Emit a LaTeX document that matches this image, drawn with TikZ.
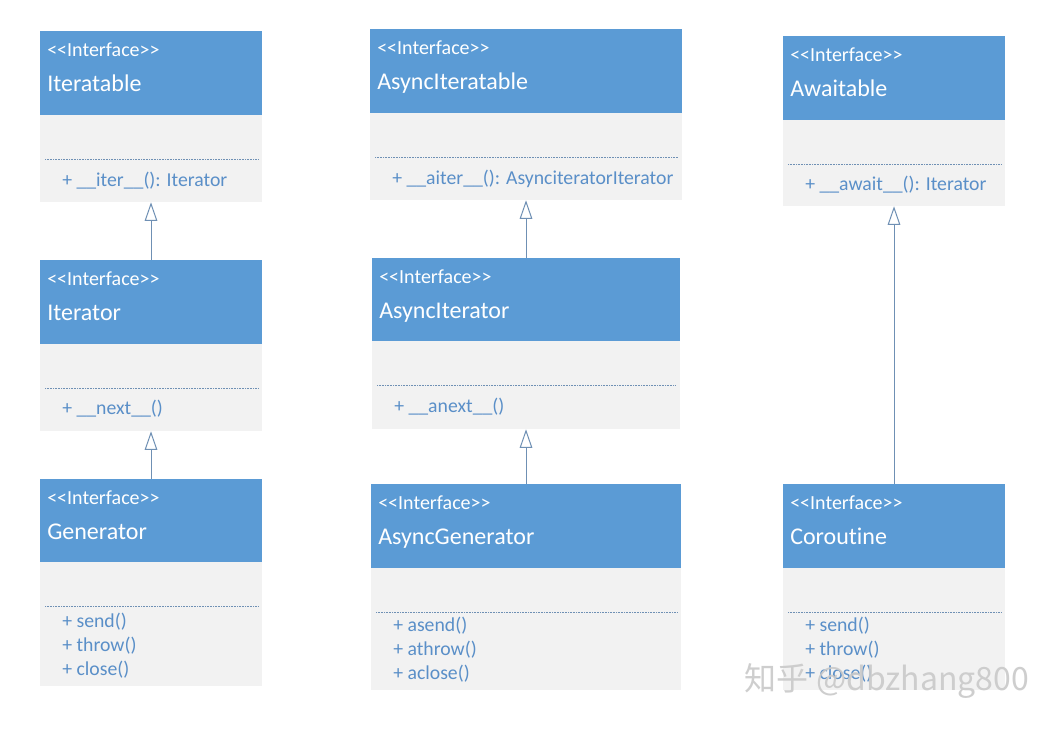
\documentclass[tikz,border=0pt]{standalone}
\usepackage{fontspec}
\setmainfont{Carlito}[Ligatures=NoCommon]
\newfontfamily\cjkwm{Noto Sans CJK SC}
\usetikzlibrary{arrows.meta,fit}
\definecolor{hdr}{HTML}{5B9BD5}
\definecolor{bodyc}{HTML}{F2F2F2}
\definecolor{mtxt}{HTML}{5A8FC8}
\definecolor{lnc}{HTML}{6F90B4}
\definecolor{wmc}{HTML}{C9C9C9}
\tikzset{
  hdrbox/.style={fill=hdr, draw=none, inner sep=0pt},
  bodybox/.style={fill=bodyc, draw=none, inner sep=0pt},
  stereo/.style={anchor=base west, text=white, font=\fontsize{15}{17}\selectfont, inner sep=0pt},
  ctitle/.style={anchor=base west, text=white, font=\fontsize{18}{21}\selectfont, inner sep=0pt},
  meth/.style={anchor=base west, text=mtxt, font=\fontsize{14.8}{17}\selectfont, inner sep=0pt},
  sep/.style={draw=lnc, line width=0.6pt, dash pattern=on 0.6pt off 0.6pt},
  inherit/.style={draw=lnc, line width=0.75pt, -{Triangle[open, length=14pt, width=9.5pt]}},
}
% #1 name, #2 left, #3 right, #4 top, #5 header bottom, #6 body bottom, #7 dotted y, #8 title
\newcommand\umlcls[8]{%
  \node[bodybox, fit={(#2,#5) (#3,#6)}] (#1b) {};
  \node[hdrbox, fit={(#2,#4) (#3,#5)}] (#1h) {};
  \node[stereo] (#1s) at (#2+7,#4+25) {<\kern0pt<Interface>\kern0pt>};
  \node[ctitle] (#1t) at (#2+7,#4+60) {#8};
  \coordinate (#1dl) at (#2+5,#7);
  \coordinate (#1dr) at (#3-4,#7);
  \draw[sep] (#1dl) -- (#1dr);
}
\begin{document}
\begin{tikzpicture}[x=0.75pt,y=-0.75pt]
\useasboundingbox (0,0) rectangle (1056,729);
\fill[white] (0,0) rectangle (1056,729);

% column 1
\umlcls{itb}{40}{262}{31}{115}{202}{159}{Iteratable}
\node[meth] (itbm) at (62,186) {+ \_\_iter\_\_(): Iterator};
\umlcls{itr}{40}{262}{260}{344}{431}{388}{Iterator}
\node[meth] (itrm) at (62,414) {+ \_\_next\_\_()};
\umlcls{gen}{40}{262}{479}{562}{686}{606}{Generator}
\node[meth] (genm1) at (62,627) {+ send()};
\node[meth] (genm2) at (62,651) {+ throw()};
\node[meth] (genm3) at (62,675) {+ close()};

% column 2
\umlcls{aitb}{370}{682}{29}{113}{200}{157}{AsyncIteratable}
\node[meth] (aitbm) at (392,184) {+ \_\_aiter\_\_(): AsynciteratorIterator};
\umlcls{aitr}{372}{680}{258}{341}{429}{385}{AsyncIterator}
\node[meth] (aitrm) at (394,412) {+ \_\_anext\_\_()};
\umlcls{agen}{371}{681}{484}{568}{690}{612}{AsyncGenerator}
\node[meth] (agenm1) at (393,631) {+ asend()};
\node[meth] (agenm2) at (393,655) {+ athrow()};
\node[meth] (agenm3) at (393,679) {+ aclose()};

% column 3
\umlcls{aw}{783}{1005}{36}{120}{206}{164}{Awaitable}
\node[meth] (awm) at (805,190) {+ \_\_await\_\_(): Iterator};
\umlcls{cor}{783}{1005}{484}{568}{690}{612}{Coroutine}
\node[meth] (corm1) at (805,631) {+ send()};
\node[meth] (corm2) at (805,655) {+ throw()};
\node[meth] (corm3) at (805,679) {+ close()};

% inheritance
\draw[inherit] (itrh.north) -- (itbb.south);
\draw[inherit] (genh.north) -- (itrb.south);
\draw[inherit] (aitrh.north) -- (aitbb.south);
\draw[inherit] (agenh.north) -- (aitrb.south);
\draw[inherit] (corh.north) -- (awb.south);

% watermark
\node[text=wmc, opacity=0.9, font=\cjkwm\fontsize{24}{27}\selectfont, inner sep=0pt] (wm) at (887,681) {知乎 @dbzhang800};
\end{tikzpicture}
\end{document}
